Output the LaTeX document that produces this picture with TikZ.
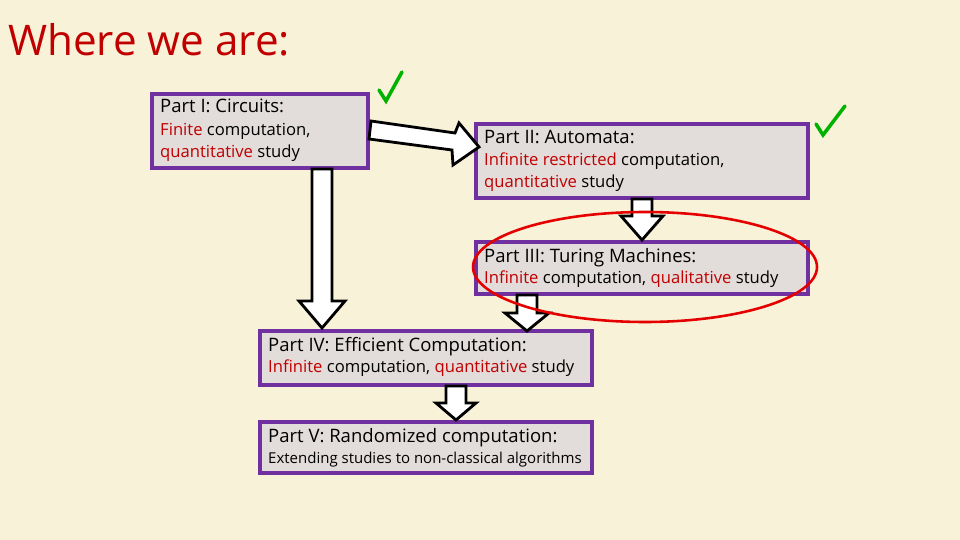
\documentclass[tikz,border=0pt]{standalone}
\usepackage{fontspec}
\setmainfont{Open Sans}
\begin{document}
\begin{tikzpicture}[x=0.03cm,y=-0.03cm,
 box/.style={draw=boxp,fill=boxf,line width=2.6pt},
 barrow/.style={draw=black,fill=white,line width=2.4pt,line join=miter},
 hd/.style={anchor=north west,font=\fontsize{15.8}{18}\selectfont,inner sep=0pt},
 bd/.style={anchor=north west,font=\fontsize{14.2}{18.5}\selectfont,inner sep=0pt,align=left},
 chk/.style={draw=green!70!black,line width=3pt,line cap=round}]
\definecolor{bg}{HTML}{F8F2D8}
\definecolor{boxp}{HTML}{7030A0}
\definecolor{boxf}{HTML}{E2DCDA}
\definecolor{rd}{HTML}{C00000}
\definecolor{ttl}{HTML}{C00000}
\fill[bg] (0,0) rectangle (960,540);
\useasboundingbox (0,0) rectangle (960,540);
\node[anchor=west,inner sep=0pt,text=ttl,font=\fontsize{36}{40}\selectfont] (title) at (8,40) {Where we are:};
% boxes
\draw[box] (152,94) rectangle (368,168) coordinate (b1);
\draw[box] (476,124) rectangle (808,198);
\draw[box] (476,242) rectangle (808,294);
\draw[box] (260,331) rectangle (592,385);
\draw[box] (260,422) rectangle (592,473);
\node[hd] (t1) at (160,99) {Part I: Circuits:};
\node[bd] (d1) at (160,123) {\textcolor{rd}{Finite} computation,\\\textcolor{rd}{quantitative} study};
\node[hd] (t2) at (484,130) {Part II: Automata:};
\node[bd] (d2) at (484,153) {\textcolor{rd}{Infinite restricted} computation,\\\textcolor{rd}{quantitative} study};
\node[hd] (t3) at (484,248) {Part III: Turing Machines:};
\node[bd] (d3) at (484,271) {\textcolor{rd}{Infinite} computation, \textcolor{rd}{qualitative} study};
\node[hd] (t4) at (268,337) {Part IV: Efficient Computation:};
\node[bd] (d4) at (268,360) {\textcolor{rd}{Infinite} computation, \textcolor{rd}{quantitative} study};
\node[hd] (t5) at (268,428) {Part V: Randomized computation:};
\node[bd,font=\fontsize{12.8}{14}\selectfont] (d5) at (268,452) {Extending studies to non-classical algorithms};
% block arrows
\draw[barrow] (371,121) -- (455,133) -- (459,123) -- (479,147) -- (453,165) -- (452,150) -- (369,139) -- cycle;
\draw[barrow] (312,169) -- (332,169) -- (332,301) -- (345,301) -- (322,328) -- (299,301) -- (312,301) -- cycle;
\draw[barrow] (632,199) -- (652,199) -- (652,216) -- (663,216) -- (642,240) -- (621,216) -- (632,216) -- cycle;
\draw[barrow] (517,295) -- (537,295) -- (537,313) -- (549,313) -- (527,331) -- (505,313) -- (517,313) -- cycle;
\draw[barrow] (446,386) -- (466,386) -- (466,403) -- (476,403) -- (456,420) -- (436,403) -- (446,403) -- cycle;
% ellipse
\draw[red!90!black,line width=2.2pt] (645,267) ellipse [x radius=172,y radius=55];
% checks
\draw[chk] (379,90) -- (386,101) -- (402,72);
\draw[chk] (816,124) -- (823,135) -- (845,106);
\end{tikzpicture}
\end{document}
